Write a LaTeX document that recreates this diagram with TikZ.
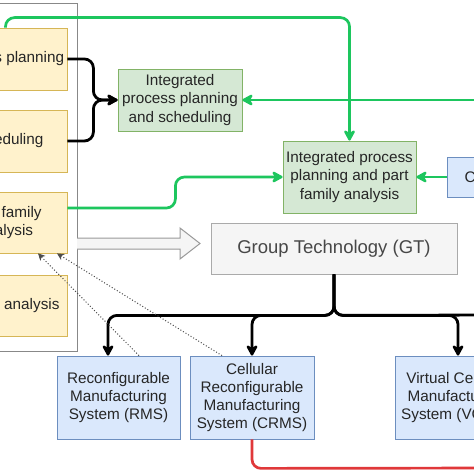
\documentclass[tikz,border=0pt]{standalone}
\usepackage{fontspec}
\setmainfont{Liberation Sans}
\usetikzlibrary{arrows.meta,calc}
\definecolor{yfill}{HTML}{FFF2CC}
\definecolor{ydraw}{HTML}{D6B656}
\definecolor{gfill}{HTML}{D5E8D4}
\definecolor{gdraw}{HTML}{82B366}
\definecolor{bfill}{HTML}{DAE8FC}
\definecolor{bdraw}{HTML}{6C8EBF}
\definecolor{grfill}{HTML}{F5F5F5}
\definecolor{grdraw}{HTML}{AAAAAA}
\definecolor{txt}{HTML}{262626}
\definecolor{gline}{HTML}{1DC65E}
\definecolor{rline}{HTML}{E0383A}
\tikzset{
  box/.style={draw, line width=0.8bp, align=center, inner sep=0pt, text=txt,
    font=\fontsize{15.3bp}{18.3bp}\selectfont},
  ybox/.style={box, fill=yfill, draw=ydraw, minimum width=123bp},
  gbox/.style={box, fill=gfill, draw=gdraw},
  bbox/.style={box, fill=bfill, draw=bdraw, minimum height=83bp},
  gtbox/.style={box, fill=grfill, draw=grdraw, text=txt!85!white,
    font=\fontsize{18.5bp}{21bp}\selectfont},
  container/.style={draw=grdraw!80!black, line width=0.9bp, fill=white, inner sep=0pt},
  blackarrow/.style={line width=2.8bp, black, rounded corners=9bp,
    -{Stealth[length=13bp,width=14bp,inset=4bp,round]}},
  blackline/.style={line width=2.8bp, black, rounded corners=9bp},
  greenarrow/.style={line width=2.7bp, gline, rounded corners=9bp,
    -{Stealth[length=13bp,width=14bp,inset=4bp,round]}},
  redline/.style={line width=2.7bp, rline, rounded corners=9bp},
  dotarrow/.style={line width=1bp, black!70, dotted,
    -{Stealth[length=7bp,width=7bp,inset=2bp]}},
  hollow/.style={draw=grdraw!90!black, fill=grfill, line width=1bp, line join=miter},
}
\begin{document}
\begin{tikzpicture}[x=1bp, y=-1bp]
\useasboundingbox (0,0) rectangle (474,474);
\fill[white] (0,0) rectangle (474,474);
\clip (0,0) rectangle (474,474);

% container
\node[container, minimum width=147bp, minimum height=348bp] (cont) at (3.5,177) {};

% yellow boxes
\node[ybox, minimum height=62bp] (y1) at (5.5,59) {Process planning};
\node[ybox, minimum height=62bp] (y2) at (5.5,141) {Scheduling};
\node[ybox, minimum height=61bp] (y3) at (5.5,222.5) {Part family\\analysis};
\node[ybox, minimum height=61bp] (y4) at (5.5,305.5) {Cluster analysis};

% green boxes
\node[gbox, minimum width=124bp, minimum height=62bp] (ips) at (180,100)
  {Integrated\\process planning\\and scheduling};
\node[gbox, minimum width=133bp, minimum height=72bp] (ipp) at (349.5,177)
  {Integrated process\\planning and part\\family analysis};

% blue C box
\node[box, fill=bfill, draw=bdraw, minimum width=77bp, minimum height=40bp] (cbox) at (485.5,177) {CAPP};

% GT
\node[gtbox, minimum width=246bp, minimum height=51bp] (gt) at (334,248.5) {Group Technology (GT)};

% blue boxes
\node[bbox, minimum width=123bp] (rms) at (118.5,397.5)
  {Reconfigurable\\Manufacturing\\System (RMS)};
\node[bbox, minimum width=124bp] (crms) at (252,397.5)
  {Cellular\\Reconfigurable\\Manufacturing\\System (CRMS)};
\node[bbox, minimum width=122bp] (vcms) at (456,397.5)
  {Virtual Cellular\\Manufacturing\\System (VCMS)};

% free ends
\coordinate (rightA) at (500,100);
\coordinate (rightB) at (500,315);
\coordinate (rightC) at (500,468);

% hollow block arrow
\draw[hollow] (77,238) -- (180,238) -- (180,228) -- (200,243.5) -- (180,259) -- (180,249) -- (77,249);

% black brace into ips
\draw[blackarrow] (y1.east) -- ++(26bp,0) |- (ips.west);
\draw[blackarrow] (y2.east) -- ++(26bp,0) |- (ips.west);

% green connectors
\draw[greenarrow] (y1.north) -- ++(0,10bp) -| (ipp.north);
\draw[greenarrow] (rightA) -- (ips.east);
\draw[greenarrow] ([yshift=14.5bp]y3.east) -- ++(108bp,0) |- (ipp.west);
\draw[greenarrow] (cbox.west) -- (ipp.east);

% GT branches
\draw[blackarrow] (gt.south) -- ++(0,-41bp) -| ([xshift=-10.5bp]rms.north);
\draw[blackarrow] (gt.south) -- ++(0,-41bp) -| (crms.north);
\draw[blackarrow] (gt.south) -- ++(0,-41bp) -| ([xshift=2bp]vcms.north);
\draw[blackline] (gt.south) -- ++(0,-41bp) -- (rightB);

% dotted
\draw[dotarrow] ([xshift=20.5bp]rms.north) -- ([xshift=32.5bp]y3.south);
\draw[dotarrow] ([xshift=-30bp]crms.north) -- ([xshift=51.5bp]y3.south);

% red
\draw[redline] (crms.south) -- ++(0,-29bp) -- (rightC);
\end{tikzpicture}
\end{document}
